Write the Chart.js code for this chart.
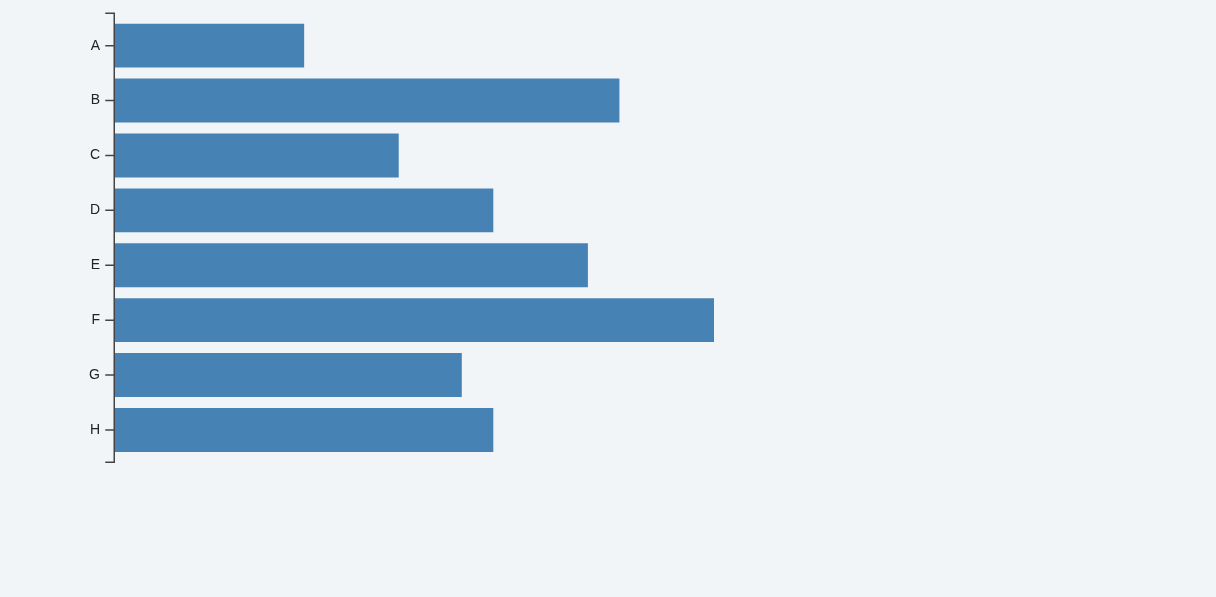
<!DOCTYPE html>
<html>
<head>
<meta charset="utf-8">
<script src="https://cdn.jsdelivr.net/npm/chart.js@4"></script>
<style>
  html, body { margin: 0; padding: 0; background: #f2f5f8; }
  #wrap { width: 1216px; height: 597px; position: relative; }
</style>
</head>
<body>
<div id="wrap"><canvas id="c"></canvas></div>
<script>
const categories = ['A', 'B', 'C', 'D', 'E', 'F', 'G', 'H'];
const values = [6, 16, 9, 12, 15, 19, 11, 12];
const xMax = 19;

const domainPath = {
  id: 'domainPath',
  afterDraw(chart) {
    const { ctx, chartArea } = chart;
    const y = chart.scales.y;
    const step = (y.getPixelForValue(1) - y.getPixelForValue(0));
    const ext = step * 0.09;
    const x0 = chartArea.left - 0.75;
    const t = chartArea.top - ext, b = chartArea.bottom + ext;
    ctx.save();
    ctx.strokeStyle = '#444';
    ctx.lineWidth = 1.5;
    ctx.beginPath();
    ctx.moveTo(x0 - 9, t);
    ctx.lineTo(x0, t);
    ctx.lineTo(x0, b);
    ctx.lineTo(x0 - 9, b);
    for (let i = 0; i < y.ticks.length; i++) {
      const py = y.getPixelForTick(i);
      ctx.moveTo(x0 - 9, py);
      ctx.lineTo(x0, py);
    }
    ctx.stroke();
    ctx.restore();
  }
};

new Chart(document.getElementById('c'), {
  type: 'bar',
  data: {
    labels: categories,
    datasets: [{
      data: values,
      backgroundColor: '#4682b4',
      borderWidth: 0,
      barPercentage: 0.8,
      categoryPercentage: 1.0
    }]
  },
  options: {
    indexAxis: 'y',
    responsive: true,
    maintainAspectRatio: false,
    animation: false,
    layout: { padding: { left: 0, right: 502, top: 18.2, bottom: 139.6 } },
    plugins: { legend: { display: false }, tooltip: { enabled: false } },
    scales: {
      x: { display: false, min: 0, max: xMax },
      y: {
        afterFit(scale) { scale.width = 115; },
        border: { display: false },
        grid: {
          offset: false,
          drawOnChartArea: false,
          drawTicks: true,
          tickLength: 9.5,
          color: 'rgba(0,0,0,0)'
        },
        ticks: {
          padding: 5.5,
          color: '#222',
          font: { family: '"Liberation Sans", Arial, sans-serif', size: 14 }
        }
      }
    }
  },
  plugins: [domainPath]
});
</script>
</body>
</html>
